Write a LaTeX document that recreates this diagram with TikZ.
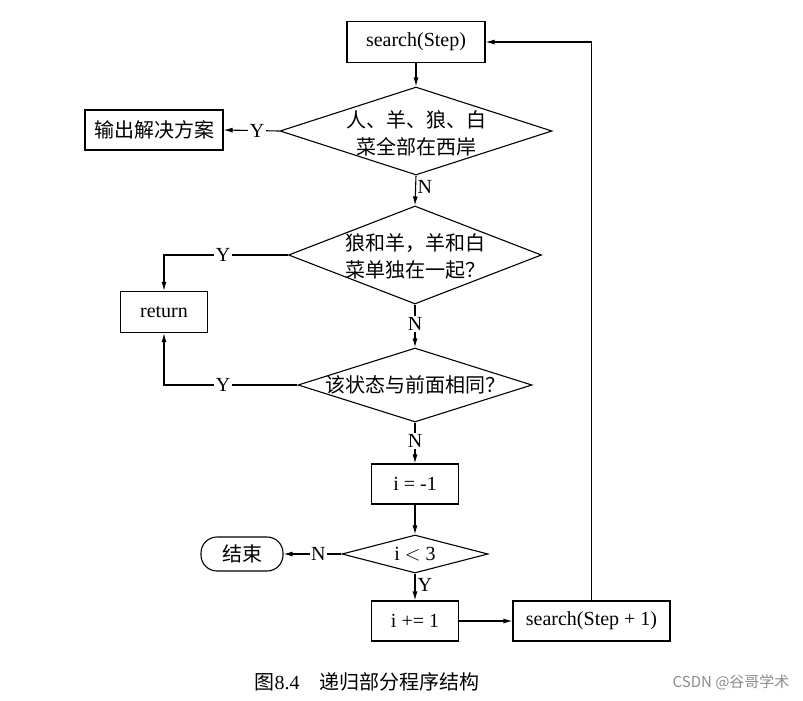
\documentclass[tikz,border=0pt]{standalone}
\usepackage{fontspec}
\setmainfont{Liberation Serif}
\newfontfamily\cjk{Noto Sans CJK SC}
\usetikzlibrary{shapes.geometric,arrows.meta}
\begin{document}
\begin{tikzpicture}[x=1pt,y=-1pt,
  font=\fontsize{20}{26}\selectfont,
  line width=1.1pt,
  procbox/.style 2 args={draw,rectangle,minimum width=#1,minimum height=#2,inner sep=0pt},
  decision/.style 2 args={draw,diamond,minimum width=#1,minimum height=#2,inner sep=0pt},
  term/.style={draw,rectangle,rounded corners=16pt,minimum width=82pt,minimum height=34pt,inner sep=0pt},
  arr/.style={-{Latex[length=9pt,width=5pt]}},
  lbl/.style={fill=white,inner sep=1.5pt},
  dtext/.style={align=center,font=\fontsize{20}{27}\selectfont\cjk}]
\useasboundingbox (0,0) rectangle (803,701);

% nodes
\node[procbox={138pt}{41pt}] (s1) at (416,42) {search(Step)};
\node[decision={272pt}{88pt}] (d1) at (416,131) {};
\node[dtext] (t1) at (416,133) {人、羊、狼、白\\菜全部在西岸};
\node[procbox={138pt}{40pt}] (out) at (154,130) {\cjk 输出解决方案};
\node[decision={253pt}{98pt}] (d2) at (415,255) {};
\node[dtext] (t2) at (415,256) {狼和羊，羊和白\\菜单独在一起？};
\node[procbox={87pt}{41pt}] (ret) at (164,312) {return};
\node[decision={234pt}{74pt}] (d3) at (415,385) {};
\node[dtext] (t3) at (415,385) {该状态与前面相同？};
\node[procbox={87pt}{40pt}] (i0) at (415,484) {i = -1};
\node[decision={146pt}{38pt}] (d4) at (415,554) {};
\node (t4) at (415,554) {i $<$ 3};
\node[term] (end) at (242,554) {\cjk 结束};
\node[procbox={87pt}{40pt}] (inc) at (415,621) {i += 1};
\node[procbox={157pt}{40pt}] (s2) at (591.5,621) {search(Step + 1)};

% connectors
\draw[arr] (s1) -- (d1.north);
\draw[arr] (d1.west) -- (out.east) node[lbl,pos=0.4] (y1) {Y};
\draw[arr] (d1.south) -- (d2.north);
\node[anchor=west,inner sep=1pt] (n1) at (416,187) {N};
\draw[arr] (d2.west) -| (ret.north);
\node[lbl] (y2) at (223,255) {Y};
\draw[arr] (d2.south) -- (d3.north) node[lbl,pos=0.45] (n2) {N};
\draw[arr] (d3.west) -| (ret.south);
\node[lbl] (y3) at (223,385) {Y};
\draw[arr] (d3.south) -- (i0.north) node[lbl,pos=0.45] (n3) {N};
\draw[arr] (i0.south) -- (d4.north);
\draw[arr] (d4.west) -- (end.east) node[lbl,pos=0.4] (n4) {N};
\draw[arr] (d4.south) -- (inc.north);
\node[anchor=west,inner sep=1pt] (y4) at (416,585) {Y};
\draw[arr] (inc.east) -- (s2.west);
\draw[arr] (s2.north) |- (s1.east);

% caption
\node[anchor=west,inner sep=0pt] (cap) at (254,682) {{\cjk 图}8.4\hspace{1em}{\cjk 递归部分程序结构}};
\node[anchor=east,inner sep=0pt,text=black!45,font=\fontsize{15}{18}\selectfont\cjk] (wm) at (790,682) {CSDN @谷哥学术};
\end{tikzpicture}
\end{document}
